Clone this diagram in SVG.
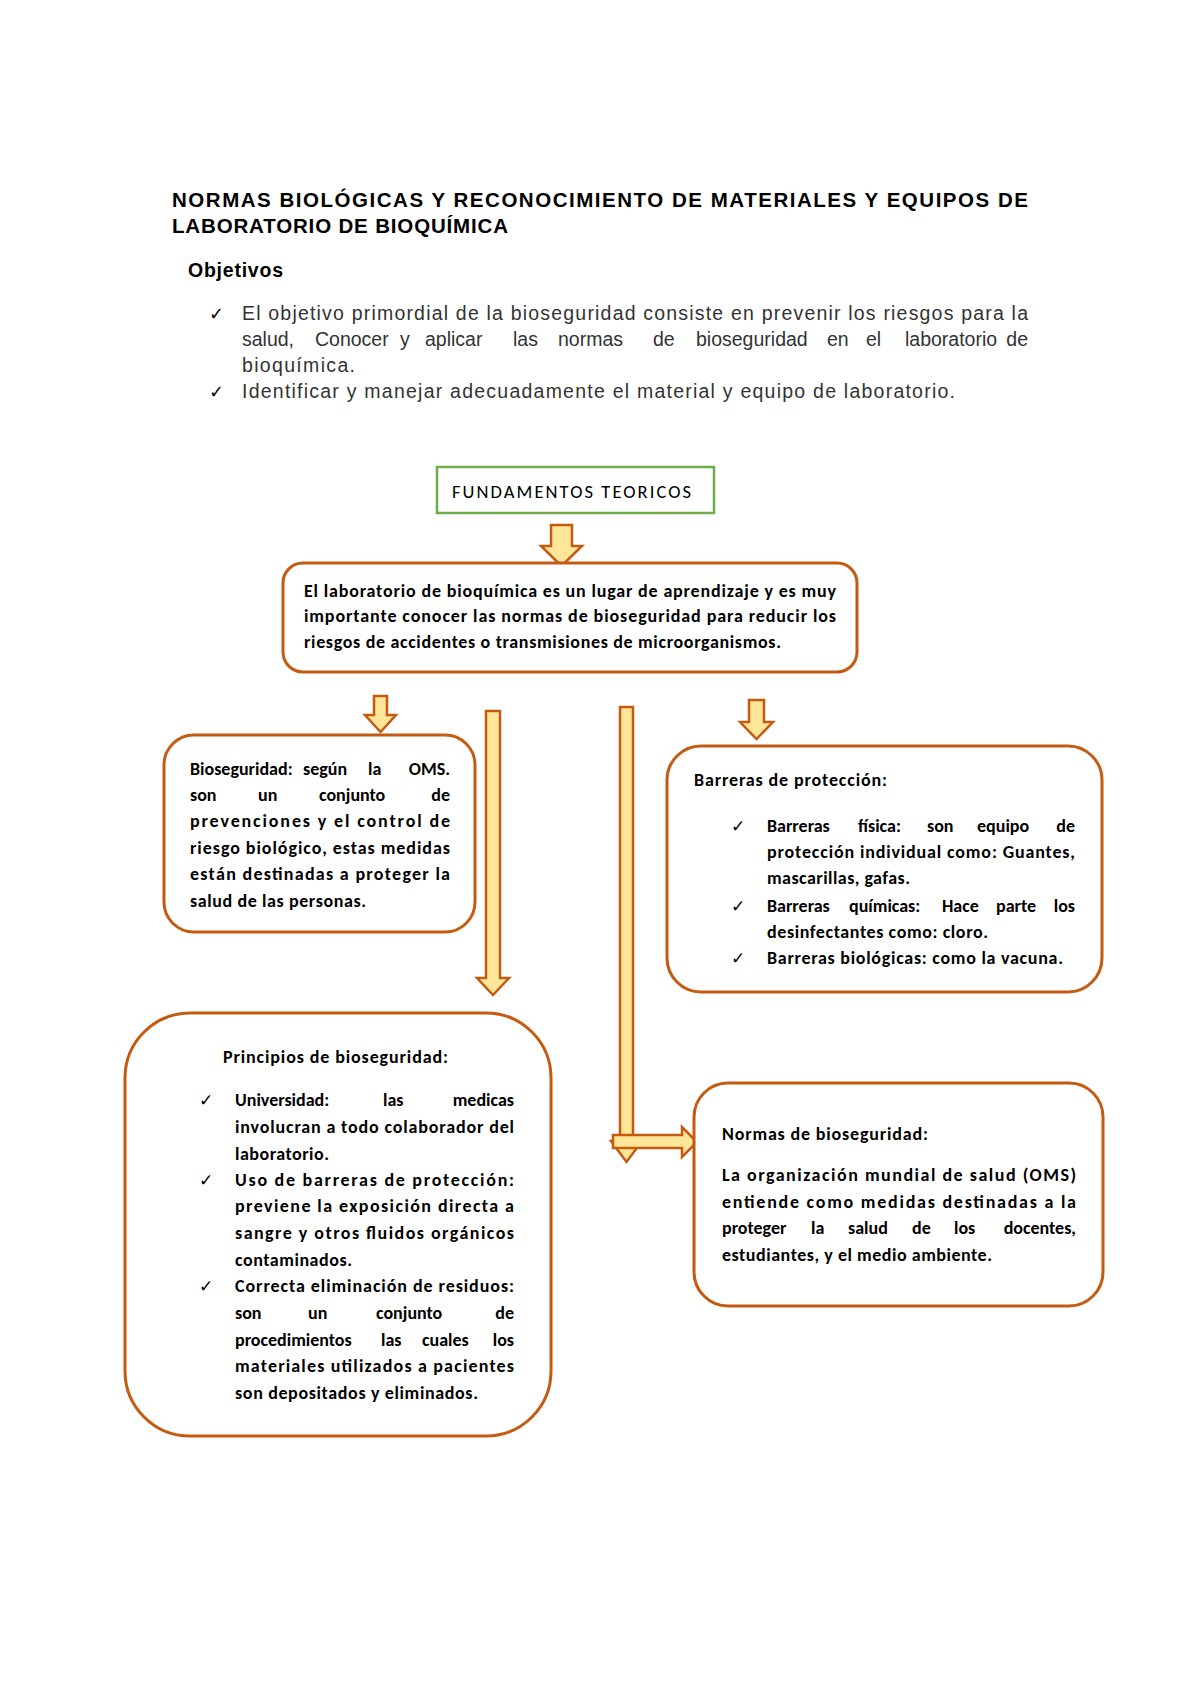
<svg xmlns="http://www.w3.org/2000/svg" width="1200" height="1698" viewBox="0 0 1200 1698">
<style>
.bg{fill:#ffffff}
.box{fill:#ffffff;stroke:#C55A11;stroke-width:3}
.gbox{fill:#ffffff;stroke:#70AD47;stroke-width:2.5}
.arrow{fill:#FFE699;stroke:#C55A11;stroke-width:2.5;stroke-linejoin:miter}
.title{font-family:"Liberation Sans",Arial,sans-serif;font-weight:bold;font-size:20.5px;fill:#000}
.obj{font-family:"Liberation Sans",Arial,sans-serif;font-size:19.5px;fill:#333}
.objh{font-family:"Liberation Sans",Arial,sans-serif;font-weight:bold;font-size:19.5px;fill:#000}
.t{font-family:Carlito,Lato,"Liberation Sans",sans-serif;font-weight:bold;font-size:18px;fill:#000}
.f{font-family:Carlito,Lato,"Liberation Sans",sans-serif;font-size:18.5px;fill:#000}
.chk{font-family:"DejaVu Sans",sans-serif;font-size:18px;fill:#000}
.chk2{font-family:"DejaVu Sans",sans-serif;font-size:17px;font-weight:bold;fill:#000}
</style>
<rect class="bg" x="0" y="0" width="1200" height="1698"/>

<g id="header">
<text class="title" x="172" y="207" textLength="856" lengthAdjust="spacing">NORMAS BIOLÓGICAS Y RECONOCIMIENTO DE MATERIALES Y EQUIPOS DE</text>
<text class="title" x="172" y="233" textLength="336" lengthAdjust="spacing">LABORATORIO DE BIOQUÍMICA</text>
<text class="objh" x="188" y="277" textLength="95" lengthAdjust="spacing">Objetivos</text>
<text class="chk" x="209" y="320">✓</text>
<text class="obj" x="242" y="320" textLength="786" lengthAdjust="spacing">El objetivo primordial de la bioseguridad consiste en prevenir los riesgos para la</text>
<text class="obj" y="346"><tspan x="242">salud,</tspan><tspan x="315">Conocer</tspan><tspan x="400">y</tspan><tspan x="425">aplicar</tspan><tspan x="513">las</tspan><tspan x="558">normas</tspan><tspan x="653">de</tspan><tspan x="696">bioseguridad</tspan><tspan x="827">en</tspan><tspan x="866">el</tspan><tspan x="905">laboratorio</tspan><tspan x="1028" text-anchor="end">de</tspan></text>
<text class="obj" x="242" y="372" textLength="113" lengthAdjust="spacing">bioquímica.</text>
<text class="chk" x="209" y="398">✓</text>
<text class="obj" x="242" y="398" textLength="713" lengthAdjust="spacing">Identificar y manejar adecuadamente el material y equipo de laboratorio.</text>
</g>

<g id="connectors">
<polygon class="arrow" points="551,525 572,525 572,546 582,546 561.5,566 541,546 551,546"/>
<polygon class="arrow" points="374,696 387,696 387,715 396,715 380.5,732 365,715 374,715"/>
<polygon class="arrow" points="749,700 764,700 764,722 773,722 756.5,739 740,722 749,722"/>
<polygon class="arrow" points="486,711 500,711 500,978 509,978 493,995 477,978 486,978"/>
<polygon class="arrow" points="620,707 633,707 633,1141 642,1141 626.5,1162 611,1141 620,1141"/>
<polygon class="arrow" points="613,1135 682,1135 682,1127 697,1142 682,1157 682,1148 613,1148"/>
</g>

<g id="fundamentos">
<rect class="gbox" x="437" y="467" width="277" height="46"/>
<text class="f" x="452" y="498" textLength="239" lengthAdjust="spacing">FUNDAMENTOS TEORICOS</text>
</g>

<g id="intro">
<rect class="box" x="283" y="563" width="574" height="109" rx="20" ry="20"/>
<text class="t" x="304" y="597" textLength="532" lengthAdjust="spacing">El laboratorio de bioquímica es un lugar de aprendizaje y es muy</text>
<text class="t" x="304" y="622" textLength="532" lengthAdjust="spacing">importante conocer las normas de bioseguridad para reducir los</text>
<text class="t" x="304" y="648" textLength="477" lengthAdjust="spacing">riesgos de accidentes o transmisiones de microorganismos.</text>
</g>

<g id="bioseguridad">
<rect class="box" x="164" y="735" width="311" height="197" rx="30" ry="30"/>
<text class="t" y="775"><tspan x="190">Bioseguridad:</tspan><tspan x="303">según</tspan><tspan x="368">la</tspan><tspan x="450" text-anchor="end">OMS.</tspan></text>
<text class="t" y="801"><tspan x="190">son</tspan><tspan x="258">un</tspan><tspan x="319">conjunto</tspan><tspan x="450" text-anchor="end">de</tspan></text>
<text class="t" x="190" y="827" textLength="260" lengthAdjust="spacing">prevenciones y el control de</text>
<text class="t" x="190" y="854" textLength="260" lengthAdjust="spacing">riesgo biológico, estas medidas</text>
<text class="t" x="190" y="880" textLength="260" lengthAdjust="spacing">están destinadas a proteger la</text>
<text class="t" x="190" y="907" textLength="176" lengthAdjust="spacing">salud de las personas.</text>
</g>

<g id="barreras">
<rect class="box" x="667" y="746" width="435" height="246" rx="34" ry="34"/>
<text class="t" x="694" y="786" textLength="193" lengthAdjust="spacing">Barreras de protección:</text>
<text class="chk2" x="731" y="832">✓</text>
<text class="t" y="832"><tspan x="767">Barreras</tspan><tspan x="858">física:</tspan><tspan x="927">son</tspan><tspan x="977">equipo</tspan><tspan x="1075" text-anchor="end">de</tspan></text>
<text class="t" x="767" y="858" textLength="308" lengthAdjust="spacing">protección individual como: Guantes,</text>
<text class="t" x="767" y="884" textLength="143" lengthAdjust="spacing">mascarillas, gafas.</text>
<text class="chk2" x="731" y="912">✓</text>
<text class="t" y="912"><tspan x="767">Barreras</tspan><tspan x="849">químicas:</tspan><tspan x="942">Hace</tspan><tspan x="996">parte</tspan><tspan x="1075" text-anchor="end">los</tspan></text>
<text class="t" x="767" y="938" textLength="221" lengthAdjust="spacing">desinfectantes como: cloro.</text>
<text class="chk2" x="731" y="964">✓</text>
<text class="t" x="767" y="964" textLength="296" lengthAdjust="spacing">Barreras biológicas: como la vacuna.</text>
</g>

<g id="principios">
<rect class="box" x="125" y="1013" width="426" height="423" rx="65" ry="65"/>
<text class="t" x="223" y="1063" textLength="225" lengthAdjust="spacing">Principios de bioseguridad:</text>
<text class="chk2" x="199" y="1106">✓</text>
<text class="t" y="1106"><tspan x="235">Universidad:</tspan><tspan x="383">las</tspan><tspan x="514" text-anchor="end">medicas</tspan></text>
<text class="t" x="235" y="1133" textLength="279" lengthAdjust="spacing">involucran a todo colaborador del</text>
<text class="t" x="235" y="1160" textLength="94" lengthAdjust="spacing">laboratorio.</text>
<text class="chk2" x="199" y="1186">✓</text>
<text class="t" x="235" y="1186" textLength="279" lengthAdjust="spacing">Uso de barreras de protección:</text>
<text class="t" x="235" y="1212" textLength="279" lengthAdjust="spacing">previene la exposición directa a</text>
<text class="t" x="235" y="1239" textLength="279" lengthAdjust="spacing">sangre y otros fluidos orgánicos</text>
<text class="t" x="235" y="1266" textLength="117" lengthAdjust="spacing">contaminados.</text>
<text class="chk2" x="199" y="1292">✓</text>
<text class="t" x="235" y="1292" textLength="279" lengthAdjust="spacing">Correcta eliminación de residuos:</text>
<text class="t" y="1319"><tspan x="235">son</tspan><tspan x="308">un</tspan><tspan x="376">conjunto</tspan><tspan x="514" text-anchor="end">de</tspan></text>
<text class="t" y="1346"><tspan x="235">procedimientos</tspan><tspan x="381">las</tspan><tspan x="422">cuales</tspan><tspan x="514" text-anchor="end">los</tspan></text>
<text class="t" x="235" y="1372" textLength="279" lengthAdjust="spacing">materiales utilizados a pacientes</text>
<text class="t" x="235" y="1399" textLength="243" lengthAdjust="spacing">son depositados y eliminados.</text>
</g>

<g id="normas">
<rect class="box" x="694" y="1083" width="409" height="223" rx="34" ry="34"/>
<text class="t" x="722" y="1140" textLength="206" lengthAdjust="spacing">Normas de bioseguridad:</text>
<text class="t" x="722" y="1181" textLength="354" lengthAdjust="spacing">La organización mundial de salud (OMS)</text>
<text class="t" x="722" y="1208" textLength="354" lengthAdjust="spacing">entiende como medidas destinadas a la</text>
<text class="t" y="1234"><tspan x="722">proteger</tspan><tspan x="811">la</tspan><tspan x="848">salud</tspan><tspan x="912">de</tspan><tspan x="954">los</tspan><tspan x="1076" text-anchor="end">docentes,</tspan></text>
<text class="t" x="722" y="1261" textLength="270" lengthAdjust="spacing">estudiantes, y el medio ambiente.</text>
</g>
</svg>
